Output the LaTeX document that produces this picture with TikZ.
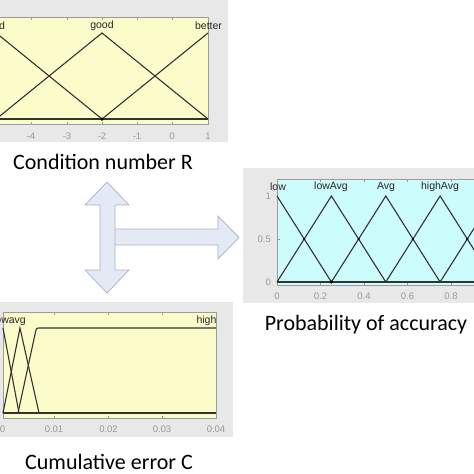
\documentclass[tikz,border=0pt]{standalone}
\usepackage{fontspec}
\setmainfont{Carlito}
\newfontfamily\plotfont{Liberation Sans}

\definecolor{panelgrey}{HTML}{E8E8E8}
\definecolor{plotyellow}{HTML}{FCFCCB}
\definecolor{plotcyan}{HTML}{CCFCFC}
\definecolor{framegrey}{HTML}{9C9C9C}
\definecolor{curvegrey}{HTML}{333333}
\definecolor{tickgrey}{HTML}{9A9A9A}
\definecolor{arrowfill}{HTML}{E3EAF5}
\definecolor{arrowedge}{HTML}{A8B2C4}

\tikzset{
    mf panel/.style={fill=panelgrey, draw=none},
    mf plot/.style={draw=framegrey, line width=0.6pt},
    mf curve/.style={draw=curvegrey, line width=1.1pt, line join=miter},
    mf base/.style={draw=curvegrey, line width=1.5pt},
    mf name/.style={font=\plotfont\fontsize{10.5}{12}\selectfont,
                    text=black!85, inner sep=0pt},
    mf tick/.style={font=\plotfont\fontsize{9.5}{11}\selectfont,
                    text=tickgrey, inner sep=0pt},
    mf mark/.style={draw=framegrey, line width=0.5pt},
    mf dot/.style={circle, fill=black, inner sep=0pt, minimum size=3.5pt},
    mf cross/.style={circle, fill=black, inner sep=0pt, minimum size=2.4pt},
    mf caption/.style={font=\fontsize{22}{26}\selectfont, inner sep=0pt},
    mf arrow/.style={fill=arrowfill, draw=arrowedge, line width=0.7pt,
                     line join=miter},
}

\begin{document}
\begin{tikzpicture}[x=1pt, y=-1pt]
    \useasboundingbox (0,0) rectangle (474,474);
    \clip (0,0) rectangle (474,474);

    % Condition number R (top)
    \fill[mf panel] (0,0) rectangle (228,142);
    \filldraw[mf plot, fill=plotyellow] (-1,17) rectangle (208,124);
    \foreach \x in {31,67,102,137,172} {
        \draw[mf mark] (\x,124) -- (\x,121.5);
        \draw[mf mark] (\x,17) -- (\x,19.5);
    }
    \draw[mf curve] (-3.8,33) -- (102,119);
    \draw[mf curve] (-3.8,119) -- (102,33) -- (208,119);
    \draw[mf curve] (102,119) -- (208,33);
    \draw[mf base] (-1,119) -- (208,119);
    \node[mf dot] (rdot) at (102,119) {};
    \node[mf name] (rbad) at (-3.8,26) {bad};
    \node[mf name] (rgood) at (102,26) {good};
    \node[mf name] (rbetter) at (208.5,26) {better};
    \foreach \x/\t in {31/-4, 67/-3, 102/-2, 137/-1, 172/0, 208/1}
        \node[mf tick] (rt\t) at (\x,136) {\t};
    \node[mf caption] (capR) at (103,162) {Condition number R};

    % Probability of accuracy (right)
    \fill[mf panel] (243,168) rectangle (480,303);
    \filldraw[mf plot, fill=plotcyan] (277,179) rectangle (490,285);
    \foreach \x in {320.5,364,407.5,451} {
        \draw[mf mark] (\x,285) -- (\x,282.5);
        \draw[mf mark] (\x,179) -- (\x,181.5);
    }
    \draw[mf mark] (277,239) -- (279.5,239);
    \draw[mf curve] (277,196) -- (331.4,282);
    \draw[mf curve] (277,282) -- (331.4,196) -- (385.8,282);
    \draw[mf curve] (331.4,282) -- (385.8,196) -- (440.1,282);
    \draw[mf curve] (385.8,282) -- (440.1,196) -- (494.5,282);
    \draw[mf curve] (440.1,282) -- (494.5,196);
    \draw[mf base] (277,282) -- (480,282);
    \node[mf dot] (pdot) at (331.4,282) {};
    \foreach \x in {304.2,358.6,412.9,467.3}
        \node[mf cross] at (\x,239) {};
    \node[mf name] (plow) at (278,187) {low};
    \node[mf name] (plowavg) at (331,187) {lowAvg};
    \node[mf name] (pavg) at (386,187) {Avg};
    \node[mf name] (phighavg) at (440,187) {highAvg};
    \node[mf tick, anchor=east] (py1) at (271,196) {1};
    \node[mf tick, anchor=east] (py05) at (271,239) {0.5};
    \node[mf tick, anchor=east] (py0) at (271,282) {0};
    \foreach \x/\t in {277/0, 320.5/0.2, 364/0.4, 407.5/0.6, 451/0.8}
        \node[mf tick] at (\x,296) {\t};
    \node[mf caption] (capP) at (366,325) {Probability of accuracy};

    % Cumulative error C (bottom)
    \fill[mf panel] (0,302) rectangle (233,437);
    \filldraw[mf plot, fill=plotyellow] (3,312) rectangle (216,418);
    \foreach \x in {54,108.5,162} {
        \draw[mf mark] (\x,418) -- (\x,415.5);
        \draw[mf mark] (\x,312) -- (\x,314.5);
    }
    \draw[mf curve] (3,328) -- (19,413);
    \draw[mf curve] (3,413) -- (20,328) -- (39,413);
    \draw[mf curve] (18,413) -- (35.5,332)
        .. controls (36.5,328) .. (40,328) -- (216,328);
    \draw[mf base] (3,413) -- (216,413);
    \node[mf name] (clowavg) at (9.5,321) {lowavg};
    \node[mf name] (chigh) at (206.5,321) {high};
    \foreach \x/\t in {2.5/0, 54/0.01, 108.5/0.02, 162/0.03, 216/0.04}
        \node[mf tick] at (\x,429) {\t};
    \node[mf caption] (capC) at (109,462) {Cumulative error C};

    % Arrows between the panels
    \draw[mf arrow] (115,229) -- (218,229) -- (218,216) -- (239,237.5)
        -- (218,259) -- (218,245) -- (115,245);
    \draw[mf arrow] (107,182) -- (129,205) -- (115,205) -- (115,270)
        -- (129,270) -- (107,293) -- (85,270) -- (100,270) -- (100,205)
        -- (85,205) -- cycle;
\end{tikzpicture}
\end{document}
